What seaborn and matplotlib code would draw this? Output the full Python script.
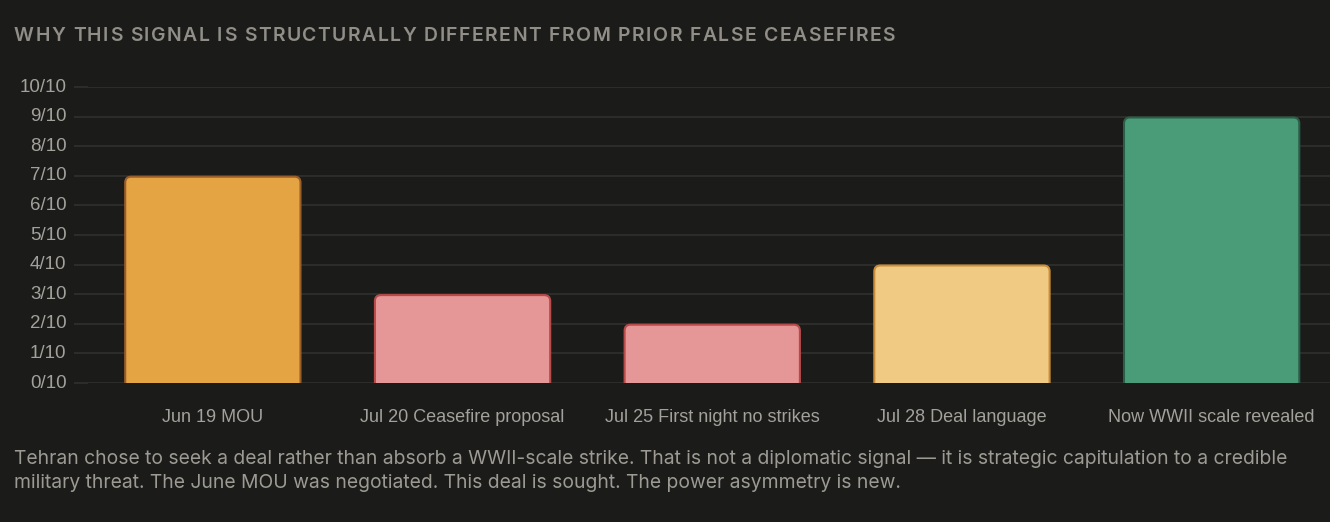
import numpy as np
import pandas as pd
import matplotlib.pyplot as plt
import seaborn as sns
from matplotlib.patches import FancyBboxPatch

# ---- data ----
events = ["Jun 19 MOU", "Jul 20 Ceasefire proposal", "Jul 25 First night no strikes",
          "Jul 28 Deal language", "Now WWII scale revealed"]
scores = [7, 3, 2, 4, 9]
fills  = ["#E5A444", "#E59697", "#E59697", "#F0C982", "#4A9C78"]
edges  = ["#9A5E2A", "#B84A4A", "#B84A4A", "#C98D3A", "#2B5E48"]
y_ticks = list(range(0, 11))
y_labels = [f"{v}/10" for v in y_ticks]

title = "WHY THIS SIGNAL IS STRUCTURALLY DIFFERENT FROM PRIOR FALSE CEASEFIRES"
note = ("Tehran chose to seek a deal rather than absorb a WWII-scale strike. That is not a diplomatic signal \u2014 it is strategic capitulation to a credible\n"
        "military threat. The June MOU was negotiated. This deal is sought. The power asymmetry is new.")

BG = "#1B1B1A"
GRID = "#2E2E2C"
TICK_TXT = "#A3A19B"
TITLE_TXT = "#908E87"
NOTE_TXT = "#9C9A93"

sns.set_theme(style="dark")
plt.rcParams['font.family'] = ['Liberation Sans', 'DejaVu Sans']

df = pd.DataFrame({"event": events, "score": scores})

W, H = 1330, 522
fig = plt.figure(figsize=(W / 100, H / 100), dpi=100, facecolor=BG)
ax = fig.add_axes([88 / W, (H - 383) / H, 1248.5 / W, 296 / H])
ax.set_facecolor(BG)

sns.barplot(data=df, x="event", y="score", hue="event", palette=fills,
            legend=False, width=0.71, ax=ax, saturation=1)

# swap plain rectangles for rounded ones (bottom pushed below 0 so only top corners show)
for p, fc, ec in zip(list(ax.patches), fills, edges):
    x0, w, h = p.get_x(), p.get_width(), p.get_height()
    p.remove()
    rp = FancyBboxPatch((x0 + 0.004, -0.5), w - 0.008, h + 0.5 - 0.03,
                        boxstyle="round,pad=0,rounding_size=0.024",
                        mutation_aspect=8.4, facecolor=fc, edgecolor=ec,
                        linewidth=1.5, zorder=3)
    ax.add_patch(rp)

ax.set_xlim(-0.5, 4.5)
ax.set_ylim(0, 10)
ax.set_yticks(y_ticks)
ax.set_yticklabels(y_labels)
ax.grid(axis="y", color=GRID, linewidth=1.3, zorder=0)
ax.grid(axis="x", visible=False)
ax.set_axisbelow(True)
for s in ax.spines.values():
    s.set_visible(False)
ax.set_xlabel("")
ax.set_ylabel("")
ax.tick_params(axis="y", length=10, width=1.3, color=GRID, pad=5.5,
               labelsize=13.5, labelcolor=TICK_TXT, left=True)
ax.tick_params(axis="x", length=0, pad=19, labelsize=13, labelcolor=TICK_TXT)
for lbl in ax.get_yticklabels():
    lbl.set_verticalalignment("center")

# title with letter spacing: place each character by measured prefix width
renderer = fig.canvas.get_renderer()
title_kw = dict(fontsize=14, fontweight="semibold", family=["Inter", "DejaVu Sans"])
probe = fig.text(0, 0, "H", **title_kw)
h_w = probe.get_window_extent(renderer).width
full = fig.text(0, 0, title + "H", **title_kw)
full_w = full.get_window_extent(renderer).width - h_w
full.remove()
spacing = (881 - full_w) / (len(title) - 1)
for i, ch in enumerate(title):
    if ch == " ":
        continue
    probe.set_text(title[:i] + "H")
    off = probe.get_window_extent(renderer).width - h_w if i else 0
    fig.text((14 + off + i * spacing) / W, 1 - 36 / H, ch, ha="left", va="center",
             color=TITLE_TXT, **title_kw)
probe.remove()

fig.text(14 / W, 1 - 471 / H, note, ha="left", va="center", color=NOTE_TXT,
         fontsize=13.9, linespacing=1.42, family=["Inter", "DejaVu Sans"])

fig.savefig("out.png", dpi=100, facecolor=BG)
